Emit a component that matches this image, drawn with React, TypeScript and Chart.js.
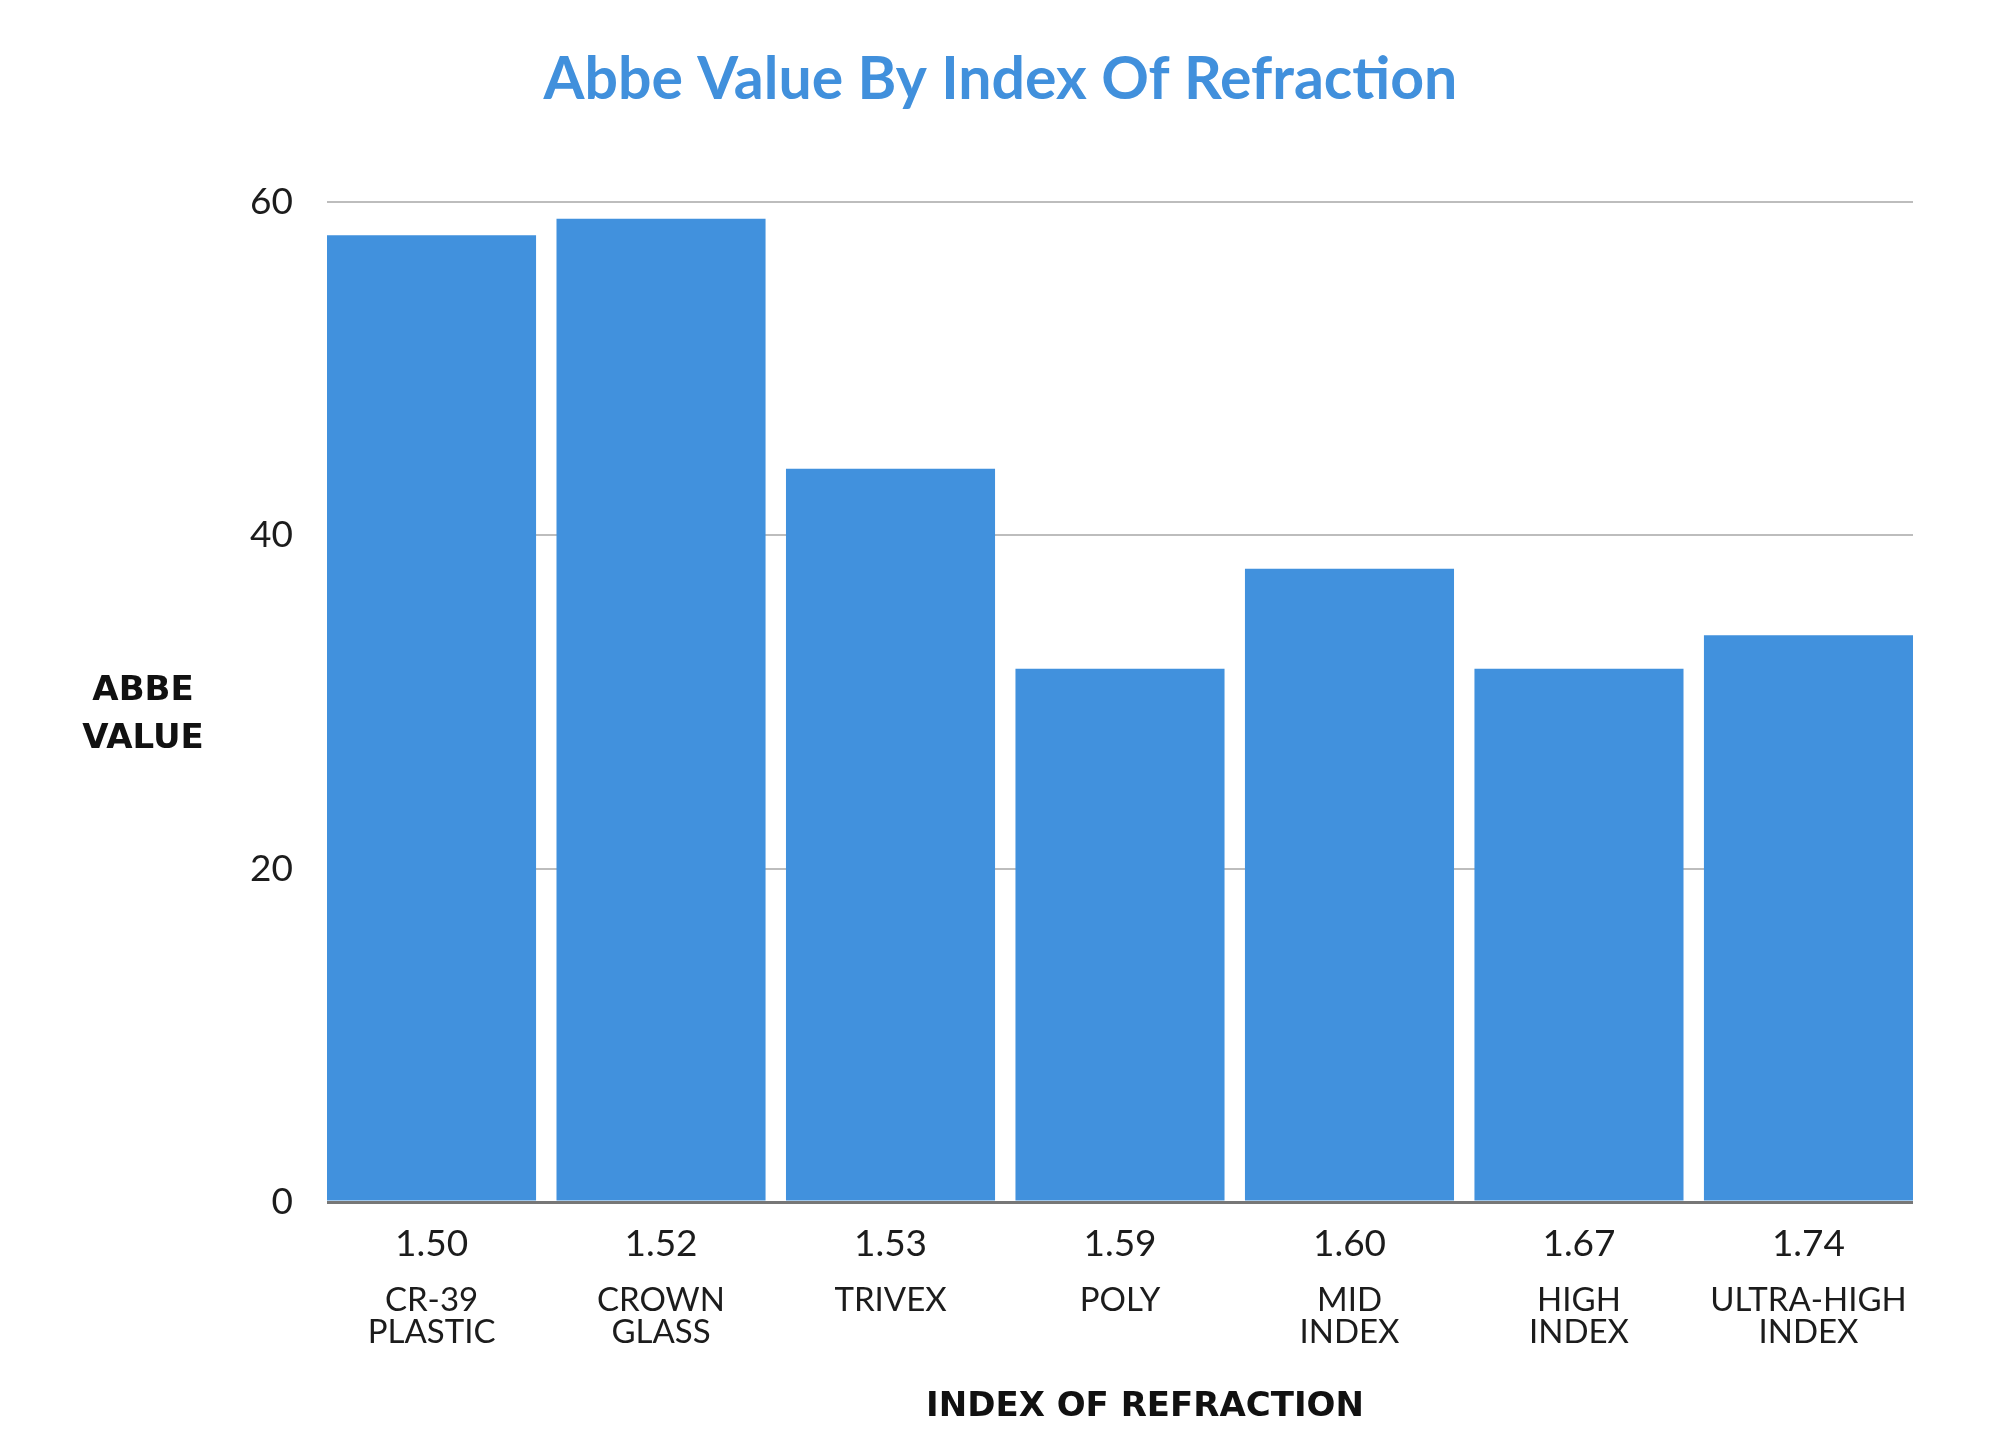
import React, { useEffect, useRef } from "react";
import { Chart, registerables } from "chart.js";

Chart.register(...registerables);

const CHART_TITLE = "Abbe Value By Index Of Refraction";
const X_TITLE = "INDEX OF REFRACTION";
const Y_TITLE = ["ABBE", "VALUE"];

const indexLabels = ["1.50", "1.52", "1.53", "1.59", "1.60", "1.67", "1.74"];
const materialLabels = [
  ["CR-39", "PLASTIC"],
  ["CROWN", "GLASS"],
  ["TRIVEX"],
  ["POLY"],
  ["MID", "INDEX"],
  ["HIGH", "INDEX"],
  ["ULTRA-HIGH", "INDEX"],
];
const abbeValues = [58, 59, 44, 32, 38, 32, 34];
const yTickValues = [0, 20, 40, 60];

const BAR_BLUE = "#4191dd";
const TITLE_BLUE = "#4190dc";
const TEXT = "#1c1c1c";
const BAR_FRACTION = 0.911;

const axisTitlesPlugin = {
  id: "axisTitlesCustom",
  afterDraw(chart: any) {
    const { ctx, chartArea, height } = chart;
    ctx.save();
    ctx.font = 'bold 34px "DejaVu Sans"';
    ctx.fillStyle = "#111";
    ctx.textAlign = "center";
    ctx.textBaseline = "middle";
    const cy = (chartArea.top + chartArea.bottom) / 2 + 13;
    ctx.fillText(Y_TITLE[0], 143, cy - 24);
    ctx.fillText(Y_TITLE[1], 143, cy + 24);
    const cx = (chartArea.left + chartArea.right) / 2 + 25;
    ctx.fillText(X_TITLE, cx, height - 22);
    ctx.restore();
  },
};

export default function App() {
  const ref = useRef<HTMLCanvasElement | null>(null);

  useEffect(() => {
    document.body.style.margin = "0";
    document.body.style.overflow = "hidden";
    const canvas = ref.current;
    if (!canvas) return;
    const xMin = -BAR_FRACTION / 2;
    const xMax = indexLabels.length - 1 + BAR_FRACTION / 2;
    const setIndexTicks = (axis: any) => {
      axis.ticks = indexLabels.map((_, i) => ({ value: i }));
    };
    const chart = new Chart(canvas, {
      type: "bar",
      data: {
        datasets: [
          {
            data: abbeValues.map((v, i) => ({ x: i, y: v })),
            backgroundColor: BAR_BLUE,
            borderWidth: 0,
            categoryPercentage: 1,
            barPercentage: BAR_FRACTION,
            xAxisID: "x",
            yAxisID: "y",
          },
        ],
      },
      options: {
        animation: false,
        responsive: true,
        maintainAspectRatio: false,
        devicePixelRatio: 1,
        layout: { padding: { left: 88, right: 88, top: 0, bottom: 0 } },
        plugins: {
          legend: { display: false },
          tooltip: { enabled: false },
          title: {
            display: true,
            text: CHART_TITLE,
            color: TITLE_BLUE,
            font: { family: "Lato", size: 59, weight: "bold", lineHeight: 1.2 },
            padding: { top: 44.1, bottom: 87.1 },
          },
        },
        scales: {
          x: {
            type: "linear",
            position: "bottom",
            offset: false,
            weight: 1,
            min: xMin,
            max: xMax,
            afterBuildTicks: setIndexTicks,
            grid: { display: false, drawTicks: false, offset: false },
            border: { display: false },
            ticks: {
              autoSkip: false,
              maxRotation: 0,
              minRotation: 0,
              padding: 20,
              color: TEXT,
              font: { family: "Lato", size: 37, lineHeight: 1.2 },
              callback: (value: any) => indexLabels[Math.round(Number(value))],
            },
          },
          x2: {
            type: "linear",
            position: "bottom",
            offset: false,
            weight: 2,
            min: xMin,
            max: xMax,
            afterBuildTicks: setIndexTicks,
            afterFit: (axis: any) => {
              axis.height = 142.6;
            },
            grid: { display: false, drawTicks: false, offset: false },
            border: { display: false },
            ticks: {
              autoSkip: false,
              maxRotation: 0,
              minRotation: 0,
              padding: -2,
              color: TEXT,
              font: { family: "Lato", size: 33, lineHeight: 32 / 33 },
              callback: (value: any) => materialLabels[Math.round(Number(value))],
            },
          },
          y: {
            type: "linear",
            position: "left",
            min: 0,
            max: 60,
            afterBuildTicks: (axis: any) => {
              axis.ticks = yTickValues.map((v) => ({ value: v }));
            },
            afterFit: (axis: any) => {
              axis.width = 239;
            },
            grid: {
              drawTicks: false,
              color: (c: any) => (c.tick && c.tick.value === 0 ? "#777777" : "#bdbdbd"),
              lineWidth: (c: any) => (c.tick && c.tick.value === 0 ? 3 : 2),
            },
            border: { display: false },
            ticks: {
              padding: 34,
              color: TEXT,
              font: { family: "Lato", size: 37, lineHeight: 1.2 },
            },
          },
        },
      },
      plugins: [axisTitlesPlugin],
    } as any);
    return () => chart.destroy();
  }, []);

  return (
    <div style={{ width: 2001, height: 1429, position: "relative" }}>
      <canvas ref={ref} />
    </div>
  );
}
